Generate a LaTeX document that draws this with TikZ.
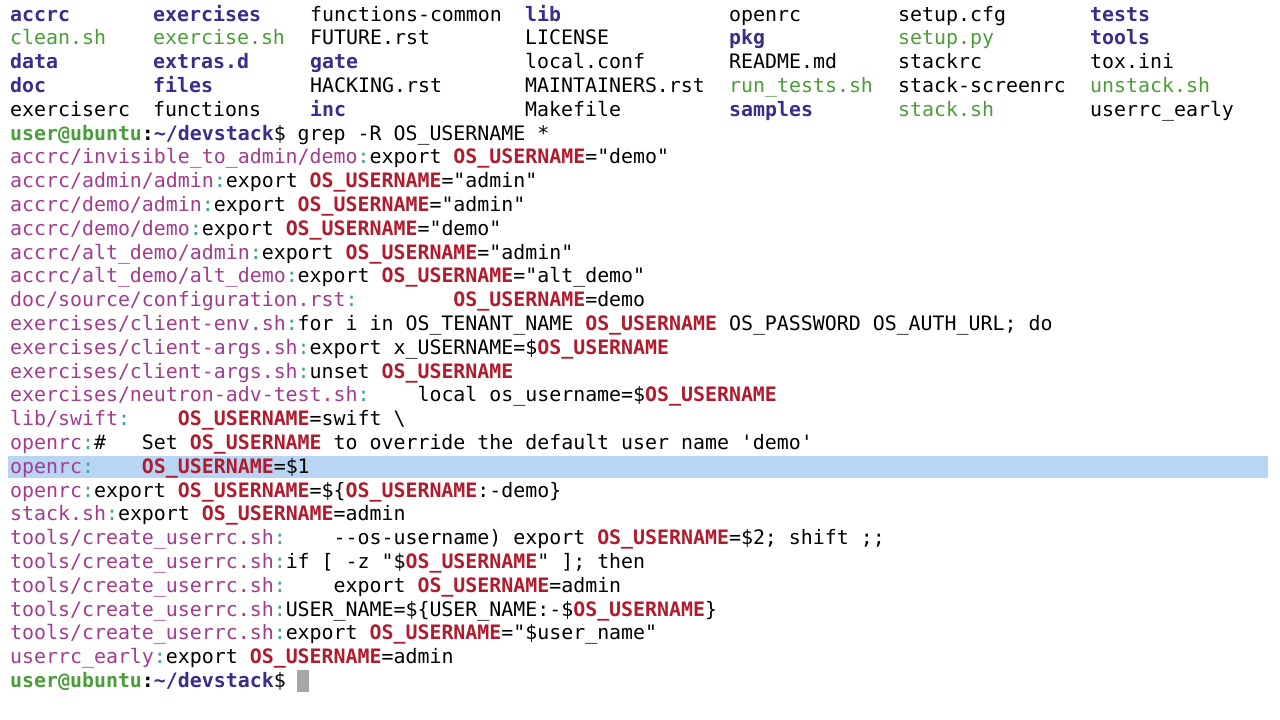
\documentclass[tikz,border=0pt]{standalone}
\usepackage{fontspec}
\setmonofont{DejaVu Sans Mono}
\definecolor{dirc}{HTML}{3A2D8C}
\definecolor{exc}{HTML}{4A9E3A}
\definecolor{pth}{HTML}{A23C8F}
\definecolor{colc}{HTML}{3AA0A0}
\definecolor{usr}{HTML}{B01C2E}
\definecolor{hl}{HTML}{B8D5F4}
\newlength\cw \setlength\cw{11.98pt}
\newcommand\Sp[1]{\hspace*{#1\cw}}
\newcommand\Pt[1]{\textcolor{pth}{#1}\textcolor{colc}{:}}
\newcommand\U{\textcolor{usr}{\bfseries OS\_USERNAME}}
\newcommand\Dr[1]{\textcolor{dirc}{\bfseries #1}}
\newcommand\Ex[1]{\textcolor{exc}{#1}}
\newcommand\Prompt{\textcolor{exc}{\bfseries user@ubuntu}{\bfseries:}\textcolor{dirc}{\bfseries\textasciitilde/devstack}\$}
\begin{document}
\begin{tikzpicture}[x=1pt,y=1pt,
  ln/.style={anchor=base west,inner sep=0pt,font=\ttfamily\fontsize{19.9}{23.8}\selectfont}]
\useasboundingbox[fill=white] (0,0) rectangle (1280,-720);
\fill[hl] (8,-456) rectangle (1268,-478);
% listing
\foreach \r/\a/\b/\c/\d/\e/\f/\g in {
 0/\Dr{accrc}/\Dr{exercises}/functions-common/\Dr{lib}/openrc/setup.cfg/\Dr{tests},
 1/\Ex{clean.sh}/\Ex{exercise.sh}/FUTURE.rst/LICENSE/\Dr{pkg}/\Ex{setup.py}/\Dr{tools},
 2/\Dr{data}/\Dr{extras.d}/\Dr{gate}/local.conf/README.md/stackrc/tox.ini,
 3/\Dr{doc}/\Dr{files}/HACKING.rst/MAINTAINERS.rst/\Ex{run\_tests.sh}/stack-screenrc/\Ex{unstack.sh},
 4/exerciserc/functions/\Dr{inc}/Makefile/\Dr{samples}/\Ex{stack.sh}/userrc\_early}{
 \node[ln] (a\r) at (10,{-21-23.8*\r}) {\a};
 \node[ln] (b\r) at (153,{-21-23.8*\r}) {\b};
 \node[ln] (c\r) at (310,{-21-23.8*\r}) {\c};
 \node[ln] (d\r) at (525,{-21-23.8*\r}) {\d};
 \node[ln] (e\r) at (729,{-21-23.8*\r}) {\e};
 \node[ln] (f\r) at (898,{-21-23.8*\r}) {\f};
 \node[ln] (g\r) at (1090,{-21-23.8*\r}) {\g};
}
\def\Y#1{-21-23.8*#1}
\node[ln] (l5) at (10,{\Y{5}}) {\Prompt{} grep -R OS\_USERNAME *};
\node[ln] (l6) at (10,{\Y{6}}) {\Pt{accrc/invisible\_to\_admin/demo}export \U="demo"};
\node[ln] (l7) at (10,{\Y{7}}) {\Pt{accrc/admin/admin}export \U="admin"};
\node[ln] (l8) at (10,{\Y{8}}) {\Pt{accrc/demo/admin}export \U="admin"};
\node[ln] (l9) at (10,{\Y{9}}) {\Pt{accrc/demo/demo}export \U="demo"};
\node[ln] (l10) at (10,{\Y{10}}) {\Pt{accrc/alt\_demo/admin}export \U="admin"};
\node[ln] (l11) at (10,{\Y{11}}) {\Pt{accrc/alt\_demo/alt\_demo}export \U="alt\_demo"};
\node[ln] (l12) at (10,{\Y{12}}) {\Pt{doc/source/configuration.rst}\Sp{8}\U=demo};
\node[ln] (l13) at (10,{\Y{13}}) {\Pt{exercises/client-env.sh}for i in OS\_TENANT\_NAME \U{} OS\_PASSWORD OS\_AUTH\_URL; do};
\node[ln] (l14) at (10,{\Y{14}}) {\Pt{exercises/client-args.sh}export x\_USERNAME=\$\U};
\node[ln] (l15) at (10,{\Y{15}}) {\Pt{exercises/client-args.sh}unset \U};
\node[ln] (l16) at (10,{\Y{16}}) {\Pt{exercises/neutron-adv-test.sh}\Sp{4}local os\_username=\$\U};
\node[ln] (l17) at (10,{\Y{17}}) {\Pt{lib/swift}\Sp{4}\U=swift \textbackslash};
\node[ln] (l18) at (10,{\Y{18}}) {\Pt{openrc}\#\Sp{3}Set \U{} to override the default user name 'demo'};
\node[ln] (l19) at (10,{\Y{19}}) {\Pt{openrc}\Sp{4}\U=\$1};
\node[ln] (l20) at (10,{\Y{20}}) {\Pt{openrc}export \U=\$\{\U:-demo\}};
\node[ln] (l21) at (10,{\Y{21}}) {\Pt{stack.sh}export \U=admin};
\node[ln] (l22) at (10,{\Y{22}}) {\Pt{tools/create\_userrc.sh}\Sp{4}--os-username) export \U=\$2; shift ;;};
\node[ln] (l23) at (10,{\Y{23}}) {\Pt{tools/create\_userrc.sh}if [ -z "\$\U" ]; then};
\node[ln] (l24) at (10,{\Y{24}}) {\Pt{tools/create\_userrc.sh}\Sp{4}export \U=admin};
\node[ln] (l25) at (10,{\Y{25}}) {\Pt{tools/create\_userrc.sh}USER\_NAME=\$\{USER\_NAME:-\$\U\}};
\node[ln] (l26) at (10,{\Y{26}}) {\Pt{tools/create\_userrc.sh}export \U="\$user\_name"};
\node[ln] (l27) at (10,{\Y{27}}) {\Pt{userrc\_early}export \U=admin};
\node[ln] (l28) at (10,{\Y{28}}) {\Prompt};
\fill[gray!70] (297,-670) rectangle (309,-692);
\end{tikzpicture}
\end{document}
